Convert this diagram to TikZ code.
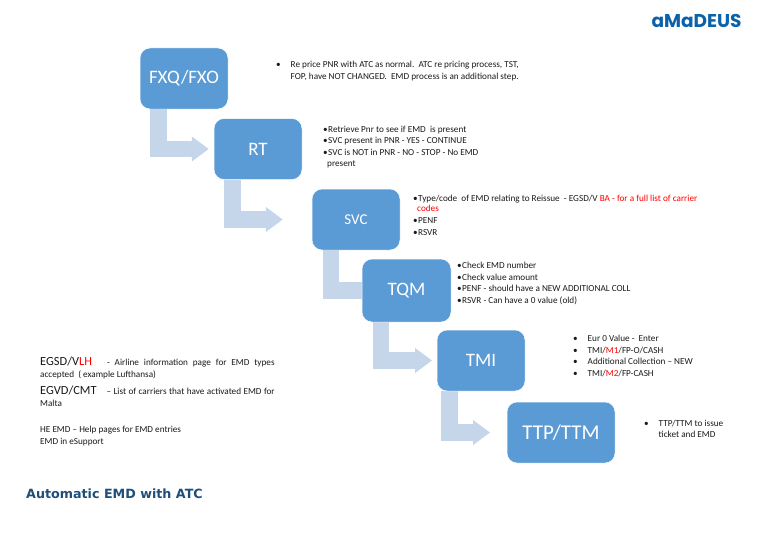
\documentclass[tikz,border=0pt]{standalone}
\usepackage{fontspec}
\usetikzlibrary{arrows.meta}
\setmainfont{Carlito}
\newfontfamily\logofont{Poppins}
\newfontfamily\titlefont{DejaVu Sans}
\definecolor{boxblue}{HTML}{5B9BD5}
\definecolor{arrowblue}{HTML}{C5D5EA}
\definecolor{titleblue}{HTML}{1F4E79}
\definecolor{logoblue}{HTML}{0B62A8}
\newcommand{\bul}{\makebox[5pt][l]{\textbullet}}
\newcommand{\nobul}{\makebox[4pt][l]{}}
\newcommand{\wbul}{\makebox[14.5pt][l]{\textbullet}}
\newcommand{\red}[1]{\textcolor{red}{#1}}
\tikzset{
	stepbox/.style={draw=white, line width=.5pt, fill=boxblue, rounded corners=10pt, minimum width=88pt, minimum height=61pt, inner sep=0pt, text=white, font=\fontsize{19}{22}\selectfont},
	flow/.style={draw=arrowblue, line width=16.5pt, -{Triangle[length=17pt,width=24pt]}},
	note/.style={anchor=north west, inner sep=0pt, align=left, font=\fontsize{9.2}{11.7}\selectfont, text=black!90}
}
\begin{document}
\begin{tikzpicture}[x=1pt, y=-1pt]
	\useasboundingbox (0,0) rectangle (768,543);
	% logo
	\node[inner sep=0pt, text=logoblue, font=\fontsize{18.5}{20}\logofont\bfseries\selectfont] (logo) at (696.5,21) {aMaDEUS};

	% steps
	\node[stepbox] (fxq) at (184,78.5) {FXQ/FXO};
	\node[stepbox] (rt) at (258,149) {RT};
	\node[stepbox, font=\fontsize{15}{18}\selectfont] (svc) at (356,219.5) {SVC};
	\coordinate (tqmwest) at (362,290.5);
	\coordinate (tmiwest) at (437,360.5);
	\coordinate (ttpwest) at (507,432.5);

	% arrows
	\draw[flow] ([xshift=18.5pt]fxq.south west) |- ([xshift=-5pt]rt.west);
	\draw[flow] ([xshift=18.5pt]rt.south west) |- ([xshift=-29pt]svc.west);
	\draw[flow] ([xshift=19pt]svc.south west) |- ([xshift=18pt]tqmwest);
	\draw[flow] (381,322) |- ([xshift=-5pt]tmiwest);
	\draw[flow] (449.5,391) |- ([xshift=-17pt]ttpwest);

	% steps on top of the arrows
	\node[stepbox, minimum width=89pt, minimum height=63pt] (tqm) at (406.5,290.5) {TQM};
	\node[stepbox] (tmi) at (481,360.5) {TMI};
	\node[stepbox, minimum width=108pt, font=\fontsize{21}{24}\selectfont] (ttp) at (561,432.5) {TTP/TTM};

	% notes
	\node[note] (fxqnote) at (276,60.5) {\wbul Re price PNR with ATC as normal.\ \ ATC re pricing process, TST,\\[1pt] \makebox[14.5pt]{}FOP, have NOT CHANGED.\ \ EMD process is an additional step.};
	\node[note] (rtnote) at (323,125.5) {\bul Retrieve Pnr to see if EMD\ \ is present\\ \bul SVC present in PNR - YES - CONTINUE\\ \bul SVC is NOT in PNR - NO - STOP - No EMD\\[-1pt] \nobul present};
	\node[note] (svcnote) at (413,194.5) {\bul Type/code\ \ of EMD relating to Reissue\ \ - EGSD/V \red{BA - for a full list of carrier}\\[-1pt] \nobul \red{codes}\\ \bul PENF\\ \bul RSVR};
	\node[note] (tqmnote) at (457,262) {\bul Check EMD number\\ \bul Check value amount\\ \bul PENF - should have a NEW ADDITIONAL COLL\\ \bul RSVR - Can have a 0 value (old)};
	\node[note] (tminote) at (573,335) {\wbul Eur 0 Value -\ \ Enter\\ \wbul TMI/\red{M1}/FP-O/CASH\\ \wbul Additional Collection -- NEW\\ \wbul TMI/\red{M2}/FP-CASH};
	\node[note] (ttpnote) at (644,419.5) {\wbul TTP/TTM to issue\\ \makebox[14.5pt]{}ticket and EMD};

	% left side
	\node[note, text width=234.5pt, align=justify] (egsd) at (40,357) {{\fontsize{12.4}{12}\selectfont EGSD/V\red{LH}}\hspace{15pt}- Airline information page for EMD types\linebreak accepted\ \ ( example Lufthansa)};
	\node[note, text width=234.5pt, align=justify] (egvd) at (40,386) {{\fontsize{12.4}{12}\selectfont EGVD/CMT}\hspace{10pt}-- List of carriers that have activated EMD for\linebreak Malta};
	\node[note] (henote) at (40,426) {HE EMD -- Help pages for EMD entries\\ EMD in eSupport};

	% title
	\node[anchor=base west, inner sep=0pt, text=titleblue, font=\fontsize{12.7}{14}\titlefont\bfseries\selectfont] (title) at (26,498) {Automatic EMD with ATC};
\end{tikzpicture}
\end{document}
